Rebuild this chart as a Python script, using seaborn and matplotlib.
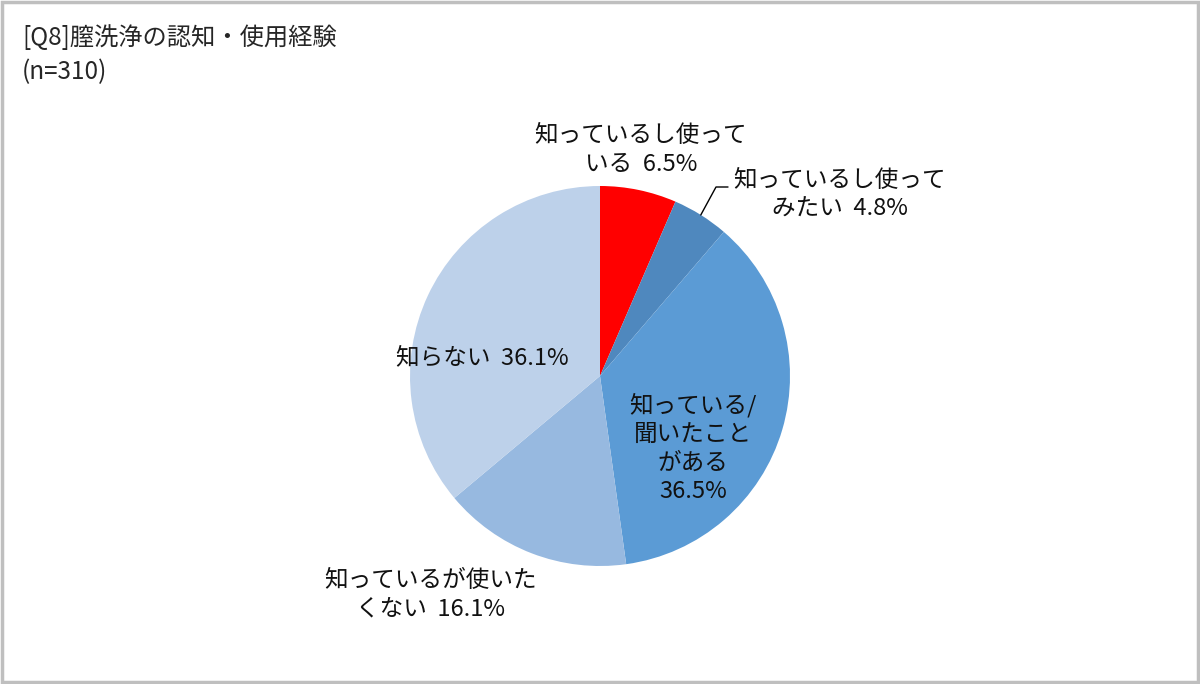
import seaborn as sns
import matplotlib.pyplot as plt
import numpy as np
from matplotlib.patches import Rectangle

title = '[Q8]膣洗浄の認知・使用経験'
subtitle = '(n=310)'
labels = ['知っているし使って\nいる', '知っているし使って\nみたい', '知っている/\n聞いたこと\nがある', '知っているが使いた\nくない', '知らない']
values = [6.5, 4.8, 36.5, 16.1, 36.1]
colors = ['#FF0000', '#4F88BE', '#5B9BD5', '#97B9E0', '#BDD1EA']

sns.set_theme(style='white')
plt.rcParams['font.family'] = ['Noto Sans CJK JP', 'DejaVu Sans']

fig = plt.figure(figsize=(12, 6.84), dpi=100)
ax = fig.add_axes([0, 0, 1, 1])

cx, cy, r = 600, 684 - 376, 190
wedges, _ = ax.pie(values, colors=colors, startangle=90, counterclock=False,
                   center=(cx, cy), radius=r, frame=True,
                   wedgeprops=dict(linewidth=0))
ax.set_xlim(0, 1200)
ax.set_ylim(0, 684)
ax.set_aspect('equal')
ax.axis('off')

# label centres in pixels (y from top)
pos = [(641, 150), (840, 195), (693, 448), (431, 595), (482, 358)]
for i, (lab, v, (x, y)) in enumerate(zip(labels, values, pos)):
    sep = '\n' if i == 2 else '  '
    ax.text(x, 684 - y, lab + sep + f'{v}%', ha='center', va='center',
            fontsize=17, linespacing=1.32, color='#111111')

# leader line for the small slice
w = wedges[1]
mid = np.deg2rad((w.theta1 + w.theta2) / 2)
x0, y0 = cx + r * np.cos(mid), cy + r * np.sin(mid)
ax.plot([x0, 716, 728], [y0, 684 - 187, 684 - 187], color='black', lw=1)

fig.text(22 / 1200, 1 - 38 / 684, title, fontsize=17.5, va='center', ha='left')
fig.text(22 / 1200, 1 - 72 / 684, subtitle, fontsize=17.5, va='center', ha='left')

fig.patches.append(Rectangle((0.002, 0.003), 0.996, 0.994, transform=fig.transFigure,
                             fill=False, edgecolor='#BFBFBF', linewidth=2.5))

fig.savefig('out.png', dpi=100)
